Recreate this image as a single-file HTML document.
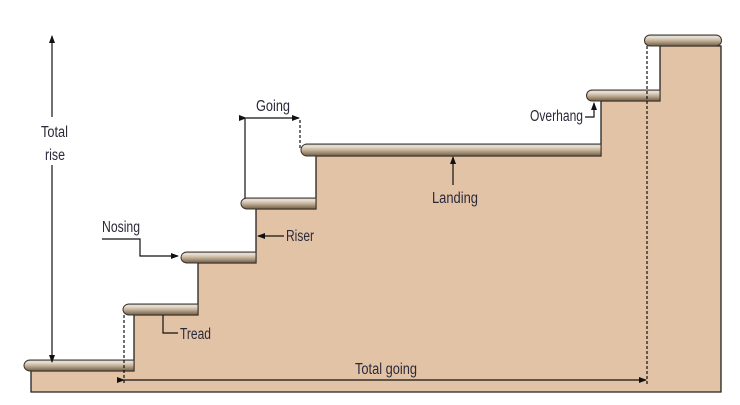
<!DOCTYPE html>
<html><head><meta charset="utf-8"><style>
html,body{margin:0;padding:0;background:#fff;width:740px;height:405px;overflow:hidden}
text{font-family:"Liberation Sans",sans-serif;font-size:15.5px;fill:#2a2a3a}
</style></head><body>
<svg width="740" height="405" viewBox="0 0 740 405" xmlns="http://www.w3.org/2000/svg">
<defs>
<linearGradient id="g" x1="0" y1="0" x2="0" y2="1">
<stop offset="0" stop-color="#8f8f8f"/>
<stop offset="0.15" stop-color="#ece8e0"/>
<stop offset="0.5" stop-color="#c7b49a"/>
<stop offset="1" stop-color="#6e5d48"/>
</linearGradient>
<marker id="a" markerWidth="8" markerHeight="8" refX="7" refY="4" orient="auto" markerUnits="userSpaceOnUse">
<path d="M0,1 L8,4 L0,7 z" fill="#111"/></marker>
</defs>
<path d="M31,371 L134,371 L134,315 L198,315 L198,263 L256,263 L256,209 L316,209 L316,156 L601,156 L601,101 L660,101 L660,46 L721,46 L721,392 L31,392 Z" fill="#e3c3a6" stroke="#222" stroke-width="1.3"/>
<g fill="url(#g)" stroke="#3a3026" stroke-width="1">
<path d="M30,360 H134 V371 H30 A6,5.5 0 0 1 30,360 Z"/>
<path d="M129,304 H198 V315 H129 A6,5.5 0 0 1 129,304 Z"/>
<path d="M187,252 H256 V263 H187 A6,5.5 0 0 1 187,252 Z"/>
<path d="M247,198 H316 V209 H247 A6,5.5 0 0 1 247,198 Z"/>
<path d="M307,144 H601 V156 H307 A6,6 0 0 1 307,144 Z"/>
<path d="M592,90 H660 V101 H592 A5.5,5.5 0 0 1 592,90 Z"/>
<path d="M650,35 H716 A5.5,5.5 0 0 1 716,46 H650 A5.5,5.5 0 0 1 650,35 Z"/>
</g>
<g stroke="#111" stroke-width="1.2" fill="none">
<line x1="52" y1="117" x2="52" y2="36" marker-end="url(#a)"/>
<line x1="52" y1="165" x2="52" y2="362" marker-end="url(#a)"/>
<line x1="124" y1="315" x2="124" y2="384" stroke-dasharray="3,2"/>
<line x1="647" y1="46" x2="647" y2="384" stroke-dasharray="3,2"/>
<line x1="124" y1="380" x2="646" y2="380" marker-start="url(#a)" marker-end="url(#a)"/>
<line x1="245" y1="198" x2="245" y2="118"/>
<line x1="300" y1="148" x2="300" y2="118" stroke-dasharray="3,2"/>
<line x1="246" y1="118" x2="299" y2="118" marker-start="url(#a)" marker-end="url(#a)"/>
<line x1="453" y1="185" x2="453" y2="157" marker-end="url(#a)"/>
<line x1="284" y1="236" x2="258" y2="236" marker-end="url(#a)"/>
<polyline points="102,239 140,239 140,256 178,256" marker-end="url(#a)"/>
<polyline points="163,315 163,333 178,333"/>
<polyline points="585,117 594,117 594,103" marker-end="url(#a)"/>
</g>
<text x="41" y="137" textLength="27" lengthAdjust="spacingAndGlyphs">Total</text>
<text x="45" y="160" textLength="20" lengthAdjust="spacingAndGlyphs">rise</text>
<text x="256" y="111" textLength="34" lengthAdjust="spacingAndGlyphs">Going</text>
<text x="432" y="203" textLength="46" lengthAdjust="spacingAndGlyphs">Landing</text>
<text x="286" y="241" textLength="28" lengthAdjust="spacingAndGlyphs">Riser</text>
<text x="102" y="232" textLength="38" lengthAdjust="spacingAndGlyphs">Nosing</text>
<text x="180" y="339" textLength="31" lengthAdjust="spacingAndGlyphs">Tread</text>
<text x="530" y="121" textLength="53" lengthAdjust="spacingAndGlyphs">Overhang</text>
<text x="355" y="374" textLength="62" lengthAdjust="spacingAndGlyphs">Total going</text>
</svg>
</body></html>
